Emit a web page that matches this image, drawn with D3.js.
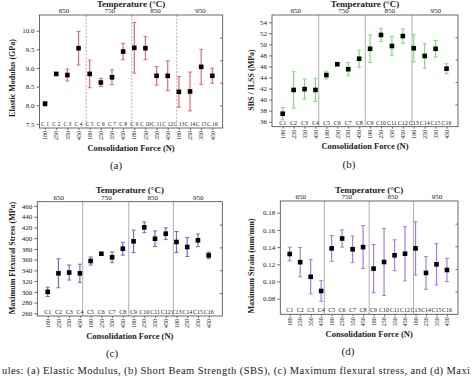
<!DOCTYPE html>
<html>
<head>
<meta charset="utf-8">
<script src="https://cdn.jsdelivr.net/npm/d3@7"></script>
<style>
  html, body { margin: 0; padding: 0; background: #fff; }
  svg { display: block; }
  text { font-family: "Liberation Serif", "DejaVu Serif", serif; fill: #222; }
</style>
</head>
<body>
<svg id="chart" width="474" height="376"></svg>
<script>
// ---------- data ----------
const categories = ["C1","C2","C3","C4","C5","C6","C7","C8","C9","C10","C11","C12","C13","C14","C15","C16"];
const forceLabels = ["180","250","350","450","180","250","350","450","180","250","350","450","180","250","350","450"];
const temperatures = ["650","750","850","950"];

const modulusMean = [8.04, 8.84, 8.81, 9.53, 8.84, 8.61, 8.75, 9.44, 9.54, 9.53, 8.79, 8.79, 8.36, 8.37, 9.03, 8.79];
const modulusErr  = [0.06, 0.02, 0.16, 0.45, 0.37, 0.11, 0.20, 0.22, 0.68, 0.31, 0.25, 0.40, 0.41, 0.52, 0.47, 0.20];
const modulusTicks = [7.5, 8.0, 8.5, 9.0, 9.5, 10.0];

const sbsMean = [37.45, 41.75, 41.9, 41.75, 44.45, 46.4, 45.5, 47.4, 49.2, 51.7, 49.7, 51.5, 49.3, 47.9, 49.2, 45.6];
const sbsErr  = [1.1, 3.3, 1.8, 2.1, 0.7, 0.15, 1.2, 1.55, 2.5, 1.2, 1.75, 1.3, 2.45, 2.2, 1.5, 0.9];
const sbsTicks = [36, 38, 40, 42, 44, 46, 48, 50, 52, 54];

const stressMean = [300, 334.6, 336, 334.6, 357.5, 371, 364.4, 380.4, 394.2, 420.3, 399, 408.4, 392.9, 383.6, 396, 368];
const stressErr  = [8.7, 27, 14, 17, 7.5, 2, 10, 12, 21, 10, 14.6, 11, 19.5, 17.7, 11.8, 6.2];
const stressTicks = [260, 280, 300, 320, 340, 360, 380, 400, 420, 440, 460];

const strainMean = [0.132, 0.1225, 0.1055, 0.089, 0.1385, 0.150, 0.1375, 0.140, 0.115, 0.1227, 0.1305, 0.1323, 0.1385, 0.110, 0.120, 0.1134];
const strainErr  = [0.008, 0.017, 0.020, 0.012, 0.015, 0.010, 0.0155, 0.025, 0.028, 0.039, 0.018, 0.0315, 0.031, 0.019, 0.024, 0.0135];
const strainTicks = [0.08, 0.10, 0.12, 0.14, 0.16, 0.18];

// ---------- drawing ----------
const svg = d3.select("#chart");

function drawPanel(cfg) {
  const g = svg.append("g");
  const x = d3.scaleLinear().domain(cfg.xDomain).range([cfg.left, cfg.right]);
  const y = d3.scaleLinear().domain(cfg.yDomain).range([cfg.bottom, cfg.top]);
  const idx = d3.range(1, categories.length + 1);

  // dividers
  g.selectAll(".div").data(cfg.dividers).join("line")
    .attr("x1", d => x(d)).attr("x2", d => x(d))
    .attr("y1", cfg.top).attr("y2", cfg.bottom)
    .attr("stroke", "#9a9a9a").attr("stroke-width", 0.8)
    .attr("stroke-dasharray", cfg.dashed ? "2,1.5" : null);

  // left axis
  const ly = g.append("g").attr("transform", `translate(${cfg.left},0)`)
    .call(d3.axisLeft(y).tickValues(cfg.ticks).tickSize(3).tickPadding(2).tickFormat(cfg.fmt));
  ly.select(".domain").remove();
  ly.selectAll("line").attr("stroke", "#333").attr("stroke-width", 0.7);
  ly.selectAll("text").style("font-size", "7px").attr("fill", "#333");

  // right axis (inward minor ticks)
  const ry = d3.scaleLinear().domain([0, 5]).range([cfg.bottom, cfg.top]);
  const rg = g.append("g").attr("transform", `translate(${cfg.right},0)`)
    .call(d3.axisLeft(ry).tickValues([1, 2, 3, 4]).tickSize(2.5).tickFormat(""));
  rg.select(".domain").remove();
  rg.selectAll("line").attr("stroke", "#333").attr("stroke-width", 0.7);

  // bottom axis ticks
  const bx = g.append("g").attr("transform", `translate(0,${cfg.bottom})`)
    .call(d3.axisBottom(x).tickValues(idx).tickSize(2).tickFormat(""));
  bx.select(".domain").remove();
  bx.selectAll("line").attr("stroke", "#333").attr("stroke-width", 0.7);

  // top axis: temperatures
  const tx = g.append("g").attr("transform", `translate(0,${cfg.top})`)
    .call(d3.axisTop(x).tickValues(cfg.tempPos).tickSize(0).tickPadding(2).tickFormat((d, i) => temperatures[i]));
  tx.select(".domain").remove();
  tx.selectAll("text").style("font-size", "7px").attr("fill", "#333");

  // frame
  g.append("rect")
    .attr("x", cfg.left).attr("y", cfg.top)
    .attr("width", cfg.right - cfg.left).attr("height", cfg.bottom - cfg.top)
    .attr("fill", "none").attr("stroke", "#444").attr("stroke-width", 0.8);

  // category labels inside
  g.selectAll(".cat").data(categories).join("text")
    .attr("x", (d, i) => x(i + 1)).attr("y", cfg.bottom - 2)
    .attr("text-anchor", "middle").style("font-size", cfg.spaced ? "5.6px" : "6px").attr("fill", "#333")
    .text(d => cfg.spaced ? d.replace("C", "C ") : d);

  // force labels (rotated)
  g.selectAll(".force").data(forceLabels).join("text")
    .attr("transform", (d, i) => `translate(${x(i + 1) + 2.2},${cfg.bottom + 3}) rotate(-90)`)
    .attr("text-anchor", "end").style("font-size", "6px").attr("fill", "#333")
    .text(d => d);

  // error bars
  const eb = g.selectAll(".eb").data(cfg.mean).join("g");
  eb.append("line")
    .attr("x1", (d, i) => x(i + 1)).attr("x2", (d, i) => x(i + 1))
    .attr("y1", (d, i) => y(d - cfg.err[i])).attr("y2", (d, i) => y(d + cfg.err[i]))
    .attr("stroke", cfg.color).attr("stroke-width", 1.2);
  eb.append("line")
    .attr("x1", (d, i) => x(i + 1) - 2).attr("x2", (d, i) => x(i + 1) + 2)
    .attr("y1", (d, i) => y(d + cfg.err[i])).attr("y2", (d, i) => y(d + cfg.err[i]))
    .attr("stroke", cfg.color).attr("stroke-width", 1);
  eb.append("line")
    .attr("x1", (d, i) => x(i + 1) - 2).attr("x2", (d, i) => x(i + 1) + 2)
    .attr("y1", (d, i) => y(d - cfg.err[i])).attr("y2", (d, i) => y(d - cfg.err[i]))
    .attr("stroke", cfg.color).attr("stroke-width", 1);

  // markers
  g.selectAll(".pt").data(cfg.mean).join("rect")
    .attr("x", (d, i) => x(i + 1) - 2.3).attr("y", d => y(d) - 2.3)
    .attr("width", 4.6).attr("height", 4.6).attr("fill", "#000");

  // titles
  const cx = (cfg.left + cfg.right) / 2;
  g.append("text").attr("x", cx).attr("y", cfg.top - 8.5)
    .attr("text-anchor", "middle").style("font-size", "9px").style("font-weight", "bold")
    .text("Temperature (°C)");
  g.append("text").attr("x", cx).attr("y", cfg.bottom + 22.5)
    .attr("text-anchor", "middle").style("font-size", "8.5px").style("font-weight", "bold")
    .text("Consolidation Force (N)");
  g.append("text")
    .attr("transform", `translate(${cfg.ylabX},${cfg.ylabY}) rotate(-90)`)
    .attr("text-anchor", "middle").style("font-size", "8px").style("font-weight", "bold")
    .text(cfg.ylabel);
  g.append("text").attr("x", cfg.tagX).attr("y", cfg.bottom + 41)
    .attr("text-anchor", "middle").style("font-size", "11px")
    .text(cfg.tag);
}

drawPanel({
  left: 39.5, right: 222.7, top: 15, bottom: 128,
  xDomain: [0.5, 16.93], yDomain: [7.39, 10.42],
  dividers: [4.68, 8.78, 12.81], tempPos: [2.65, 6.75, 10.85, 14.9], dashed: true, spaced: true,
  ticks: modulusTicks, fmt: d3.format(".1f"),
  mean: modulusMean, err: modulusErr, color: "#e36b6b",
  ylabel: "Elastic Modulus (GPa)", ylabX: 15, ylabY: 78, tag: "(a)", tagX: 116
});

drawPanel({
  left: 272, right: 458, top: 15, bottom: 126.7,
  xDomain: [0.02, 17.05], yDomain: [35.1, 55.31],
  dividers: [4.3, 8.56, 12.84], tempPos: [2.15, 6.52, 10.76, 14.97], dashed: false, spaced: false,
  ticks: sbsTicks, fmt: d3.format("d"),
  mean: sbsMean, err: sbsErr, color: "#7ddf72",
  ylabel: "SBS / ILSS (MPa)", ylabX: 254, ylabY: 80, tag: "(b)", tagX: 349
});

drawPanel({
  left: 37.3, right: 222.3, top: 201.7, bottom: 316,
  xDomain: [0.03, 17.27], yDomain: [255, 468],
  dividers: [4.26, 8.55, 12.71], tempPos: [1.99, 6.43, 10.75, 14.98], dashed: false, spaced: false,
  ticks: stressTicks, fmt: d3.format("d"),
  mean: stressMean, err: stressErr, color: "#6c6ce0",
  ylabel: "Maximum Flexural Stress (MPa)", ylabX: 15, ylabY: 258, tag: "(c)", tagX: 112
});

drawPanel({
  left: 280.3, right: 458, top: 201, bottom: 314.3,
  xDomain: [0.104, 17.05], yDomain: [0.0619, 0.1936],
  dividers: [4.3, 8.58, 12.81], tempPos: [2.0, 6.4, 10.77, 15.0], dashed: false, spaced: false,
  ticks: strainTicks, fmt: d3.format(".2f"),
  mean: strainMean, err: strainErr, color: "#a67be6",
  ylabel: "Maximum Strain (mm/mm)", ylabX: 254, ylabY: 266, tag: "(d)", tagX: 348
});

// caption line at bottom edge
svg.append("text").attr("x", 2).attr("y", 373.5)
  .style("font-size", "10.5px")
  .attr("textLength", 468).attr("lengthAdjust", "spacing")
  .text("ules: (a) Elastic Modulus, (b) Short Beam Strength (SBS), (c) Maximum flexural stress, and (d) Maxi");
</script>
</body>
</html>
